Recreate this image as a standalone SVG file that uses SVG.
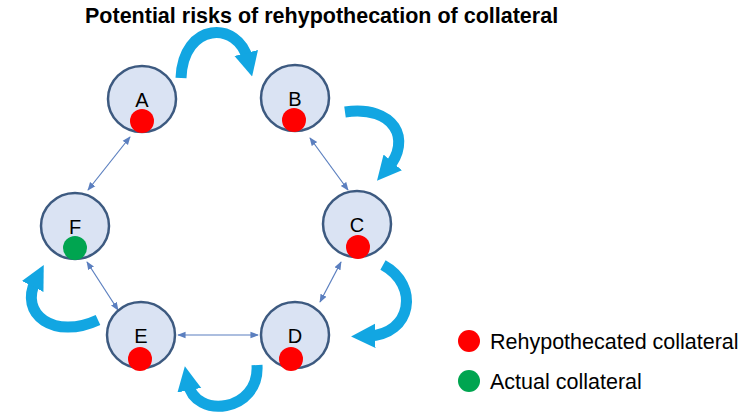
<svg xmlns="http://www.w3.org/2000/svg" width="756" height="415" viewBox="0 0 756 415">
<defs>
<style>
.n{fill:#dae3f3;stroke:#3d5a80;stroke-width:2.5}
.t{font-family:"Liberation Sans",Arial,sans-serif;font-size:20px;fill:#000;text-anchor:middle}
.l{font-family:"Liberation Sans",Arial,sans-serif;font-size:21.5px;fill:#000}
.c{stroke:#5b7fbf;stroke-width:1.2;fill:none;marker-start:url(#s);marker-end:url(#s)}
.b{stroke:#12a6e2;stroke-width:11;fill:none;marker-end:url(#h)}
</style>
<marker id="s" viewBox="0 0 10 10" refX="9" refY="5" markerWidth="7" markerHeight="7" orient="auto-start-reverse"><path d="M0,1 L10,5 L0,9 z" fill="#5b7fbf"/></marker>
<marker id="h" viewBox="0 0 10 10" refX="3" refY="5" markerWidth="2.2" markerHeight="2.6" orient="auto" markerUnits="strokeWidth"><path d="M0,0 L10,5 L0,10 z" fill="#12a6e2"/></marker>
</defs>
<rect width="756" height="415" fill="#fff"/>
<text x="85" y="23" style="font-family:'Liberation Sans',Arial,sans-serif;font-size:21.5px;font-weight:bold">Potential risks of rehypothecation of collateral</text>
<g id="connectors">
<path class="c" d="M130,137 L88,190"/>
<path class="c" d="M310,138 L348,190"/>
<path class="c" d="M341,262 L320,302"/>
<path class="c" d="M87,262 L118,310"/>
<path class="c" d="M178,335 L258,335"/>
<path class="b" d="M181,78 C183,22 238,20 248,60"/>
<path class="b" d="M345,112 C395,105 412,140 388,168"/>
<path class="b" d="M383,265 C420,285 412,335 368,336"/>
<path class="b" d="M257,365 C260,412 195,420 188,383"/>
<path class="b" d="M98,320 C55,340 18,315 36,280"/>
</g>
<g id="A"><ellipse class="n" cx="142" cy="99" rx="34" ry="33"/><text class="t" x="142" y="107">A</text><circle cx="142" cy="121" r="12" fill="#ff0000"/></g>
<g id="B"><ellipse class="n" cx="295" cy="98" rx="34" ry="33"/><text class="t" x="295" y="106">B</text><circle cx="294" cy="120" r="12" fill="#ff0000"/></g>
<g id="C"><ellipse class="n" cx="357" cy="224" rx="34" ry="33"/><text class="t" x="357" y="232">C</text><circle cx="358" cy="247" r="12" fill="#ff0000"/></g>
<g id="D"><ellipse class="n" cx="295" cy="335" rx="34" ry="33"/><text class="t" x="295" y="343">D</text><circle cx="291" cy="359" r="12" fill="#ff0000"/></g>
<g id="E"><ellipse class="n" cx="141" cy="335" rx="34" ry="33"/><text class="t" x="141" y="343">E</text><circle cx="140" cy="359" r="12" fill="#ff0000"/></g>
<g id="F"><ellipse class="n" cx="75" cy="226" rx="34" ry="33"/><text class="t" x="75" y="234">F</text><circle cx="75" cy="248" r="12" fill="#00a550"/></g>
<g id="legend">
<circle cx="469" cy="341" r="11" fill="#ff0000"/><text class="l" x="490" y="349">Rehypothecated collateral</text>
<circle cx="469" cy="381" r="11" fill="#00a550"/><text class="l" x="490" y="389">Actual collateral</text>
</g>
</svg>
